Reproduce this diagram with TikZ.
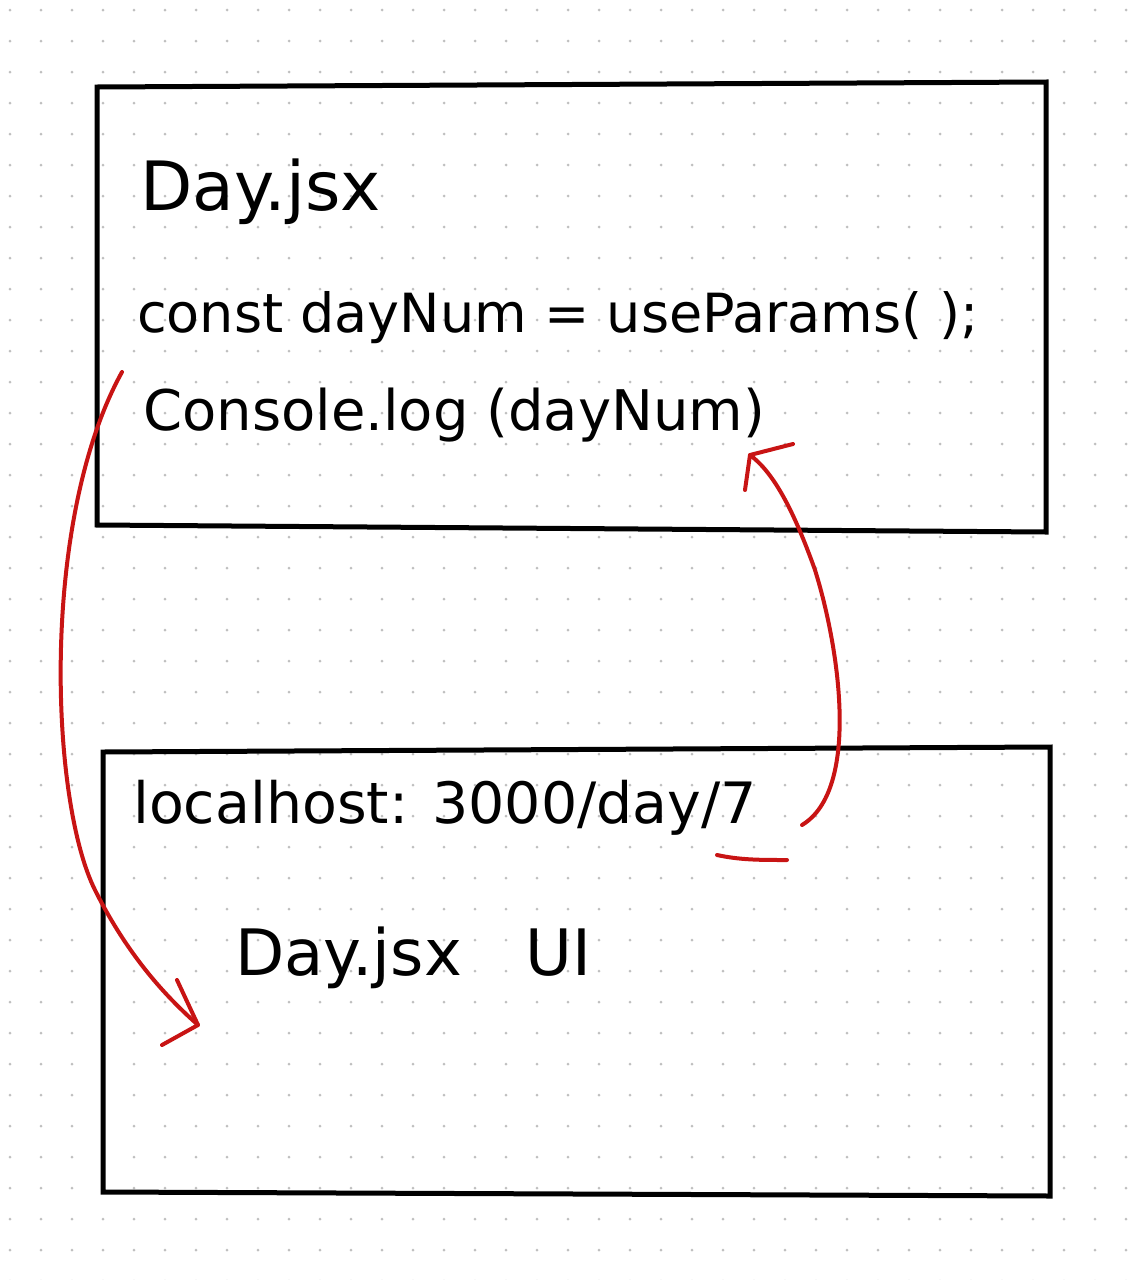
\documentclass[tikz,border=0pt]{standalone}
\usepackage{fontspec}
\setmainfont{DejaVu Sans}
\begin{document}
\begin{tikzpicture}[x=1pt,y=-1pt,
  box/.style={draw=black,line width=5pt},
  hand/.style={anchor=west,inner sep=0pt},
  redline/.style={draw={rgb,255:red,200;green,20;blue,20},line width=4pt,line cap=round,line join=round}]
\useasboundingbox[fill=white] (0,0) rectangle (1148,1280);
\foreach \i in {0,...,37} \foreach \j in {0,...,41}
  \fill[black!25] (\i*31+10,\j*31+10) circle (1.5pt);
\draw[box] (97,87) -- (1046,82) -- (1046,532) -- (97,525) -- cycle;
\draw[box] (103,752) -- (1050,747) -- (1050,1196) -- (103,1192) -- cycle;
\node[hand,font=\fontsize{68}{72}\selectfont] (t1) at (140,192) {Day.jsx};
\node[hand,font=\fontsize{54}{58}\selectfont] (t2) at (137,318) {const dayNum = useParams( );};
\node[hand,font=\fontsize{56}{60}\selectfont] (t3) at (143,415) {Console.log (dayNum)};
\node[hand,font=\fontsize{57}{60}\selectfont] (t4) at (133,808) {localhost: 3000/day/7};
\node[hand,font=\fontsize{64}{68}\selectfont] (t5) at (235,958) {Day.jsx\quad UI};
\coordinate (a1) at (122,372);
\coordinate (a2) at (198,1025);
\coordinate (b1) at (802,825);
\coordinate (b2) at (750,455);
\draw[redline] (a1) .. controls (40,520) and (50,800) .. (95,890) .. controls (130,960) and (170,1000) .. (a2);
\draw[redline] (177,980) -- (a2) -- (162,1045);
\draw[redline] (b1) .. controls (860,790) and (840,650) .. (815,570) .. controls (790,500) and (770,470) .. (b2);
\draw[redline] (745,490) -- (b2) -- (793,444);
\draw[redline] (717,855) .. controls (740,860) and (760,860) .. (787,860);
\end{tikzpicture}
\end{document}
